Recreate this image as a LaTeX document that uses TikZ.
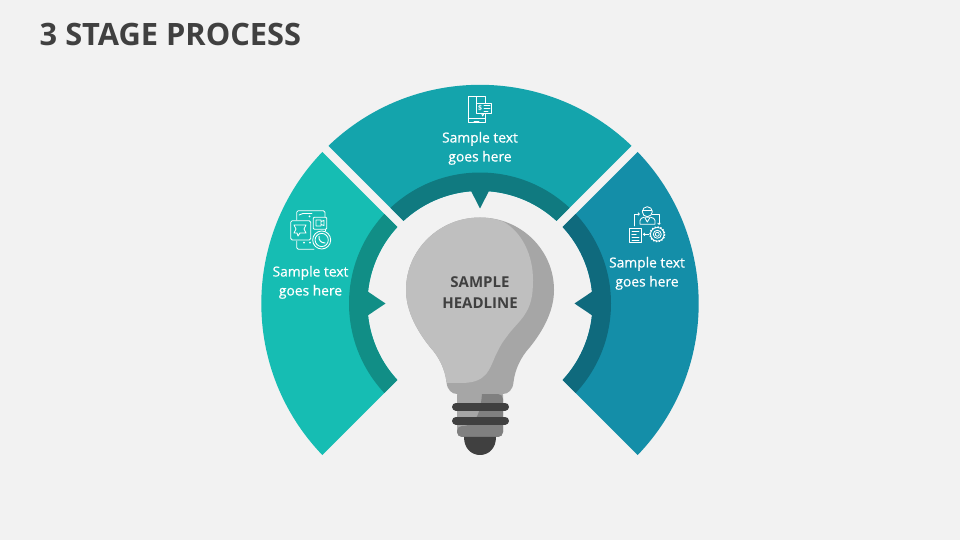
\documentclass[tikz,border=0pt]{standalone}
\usepackage{fontspec}
\usetikzlibrary{arrows.meta}
\setmainfont{Open Sans}
\newfontfamily\bodyfont[FakeBold=0.7]{Open Sans}
\definecolor{bgc}{HTML}{F2F2F2}
\definecolor{leftc}{HTML}{16BDB3}
\definecolor{leftr}{HTML}{118E86}
\definecolor{topc}{HTML}{14A4AC}
\definecolor{topr}{HTML}{107A80}
\definecolor{rightc}{HTML}{148EA8}
\definecolor{rightr}{HTML}{0F6A7D}
\definecolor{ink}{HTML}{404040}
\definecolor{bulbl}{HTML}{BFBFBF}
\definecolor{bulbd}{HTML}{A6A6A6}
\definecolor{neckd}{HTML}{808080}
\tikzset{
  bodytext/.style={text=white,font=\bodyfont\fontsize{13.8}{19}\selectfont,align=center,inner sep=0pt},
  headtext/.style={text=ink,font=\fontsize{15}{20.6}\selectfont\bfseries,align=center,inner sep=0pt},
  icon/.style={draw=white,line width=0.85pt,line join=round,line cap=round},
  band/.style={draw=ink,line width=8pt,line cap=round},
}
\begin{document}
\begin{tikzpicture}[x=1pt,y=1pt]
\useasboundingbox (0,0) rectangle (960,540);
\fill[bgc] (0,0) rectangle (960,540);
% segments
\begin{scope}[shift={(480pt,236.5pt)}]
  \fill[leftc] (136.15:218.7) arc[start angle=136.15,end angle=223.85,radius=218.7pt]
     -- (222.8:112.6) arc[start angle=222.8,end angle=137.2,radius=112.6pt] -- cycle;
  \fill[topc] (133.85:218.7) arc[start angle=133.85,end angle=46.15,radius=218.7pt]
     -- (47.2:112.6) arc[start angle=47.2,end angle=132.8,radius=112.6pt] -- cycle;
  \fill[rightc] (43.85:218.7) arc[start angle=43.85,end angle=-43.85,radius=218.7pt]
     -- (-42.8:112.6) arc[start angle=-42.8,end angle=42.8,radius=112.6pt] -- cycle;
  % rings with pointers
  \fill[leftr] (136.9:131) arc[start angle=136.9,end angle=223.1,radius=131pt]
     -- (222.8:112.6) arc[start angle=222.8,end angle=186,radius=112.6pt]
     -- (180:94.5) -- (174:112.6) arc[start angle=174,end angle=137.2,radius=112.6pt] -- cycle;
  \fill[topr] (133.1:131) arc[start angle=133.1,end angle=46.9,radius=131pt]
     -- (47.2:112.6) arc[start angle=47.2,end angle=85.5,radius=112.6pt]
     -- (90:95) -- (94.5:112.6) arc[start angle=94.5,end angle=132.8,radius=112.6pt] -- cycle;
  \fill[rightr] (43.1:131) arc[start angle=43.1,end angle=-43.1,radius=131pt]
     -- (-42.8:112.6) arc[start angle=-42.8,end angle=-6,radius=112.6pt]
     -- (0:94.5) -- (6:112.6) arc[start angle=6,end angle=42.8,radius=112.6pt] -- cycle;
\end{scope}
% everything below in reference pixel coordinates, y downwards
\begin{scope}[shift={(0pt,540pt)},y=-1pt]
  % title
  \node[anchor=base west,inner sep=0pt,text=ink,font=\fontsize{30.8}{36}\selectfont\bfseries] (title) at (39.5,45.5) {3 STAGE PROCESS};
  % neck
  \fill[bulbd,rounded corners=5pt] (457,390) -- (457,437) -- (503,437) -- (503,390) -- cycle;
  \fill[neckd,rounded corners=5pt] (482,394) -- (503,394) -- (503,437) -- (457,437) -- (457,426) [sharp corners] -- (462,426) .. controls (472,426) and (480,420) .. (482,394) -- cycle;
  % cap
  \fill[ink] (464,437) -- (496,437) .. controls (496,448) and (489,455) .. (480,455) .. controls (471,455) and (464,448) .. (464,437) -- cycle;
  % bands
  \coordinate (b1l) at (456,406.7); \coordinate (b1r) at (505,406.7);
  \coordinate (b2l) at (456,420.7); \coordinate (b2r) at (505,420.7);
  \draw[band] (b1l) -- (b1r);
  \draw[band] (b2l) -- (b2r);
  % bulb silhouette
  \fill[bulbd] (480,217.5) .. controls (521,217.5) and (554,250) .. (554,290)
     .. controls (554,312) and (542,332) .. (530,347)
     .. controls (520,358) and (515,370) .. (513.5,382)
     .. controls (513,390) and (508,394) .. (503,394) -- (457,394)
     .. controls (452,394) and (447,390) .. (446.5,382)
     .. controls (445,370) and (440,358) .. (430,347)
     .. controls (418,332) and (406,312) .. (406,290)
     .. controls (406,250) and (439,217.5) .. (480,217.5) -- cycle;
  % bulb highlight
  \fill[bulbl] (480,217.5) .. controls (488,217.5) and (496,219) .. (503,221.5)
     .. controls (522,232) and (533,255) .. (533,280)
     .. controls (533,296) and (531,306) .. (523.3,316.7)
     .. controls (518,324) and (512,329) .. (506.7,336.7)
     .. controls (500,345) and (498,351) .. (495,356.7)
     .. controls (492,364) and (490,369) .. (486.7,373.3)
     .. controls (482,379) and (476,382.5) .. (463,383)
     -- (447,383) -- (446.5,382)
     .. controls (445,370) and (440,358) .. (430,347)
     .. controls (418,332) and (406,312) .. (406,290)
     .. controls (406,250) and (439,217.5) .. (480,217.5) -- cycle;
  % texts
  \node[headtext] (head) at (480,292.8) {SAMPLE\\HEADLINE};
  \node[bodytext] (ttop) at (480,148.4) {Sample text\\goes here};
  \node[bodytext] (tleft) at (310.5,282.4) {Sample text\\goes here};
  \node[bodytext] (tright) at (647,273.4) {Sample text\\goes here};
  % top icon: phone + bubble
  \draw[icon] (476.5,103) -- (476.5,96) -- (485,96) -- (485,103);
  \draw[icon] (468.3,97) -- (468.3,122.5) -- (485,122.5) -- (485,114);
  \draw[icon] (468.3,97) -- (468.3,96) -- (477,96);
  \draw[icon] (468.3,118) -- (485,118);
  \draw[icon] (474,121) -- (479,121);
  \draw[icon] (476.7,103.3) rectangle (491.7,113.3);
  \draw[icon] (481.5,113.3) -- (482.7,116) -- (484,113.3);
  \draw[icon] (484,105.5) -- (490,105.5) (484,108.3) -- (490,108.3) (484,111) -- (488,111);
  \node[text=white,inner sep=0pt,font=\fontsize{7}{7}\selectfont\bfseries] (dollar) at (480.2,108.3) {\$};
  % left icon
  \draw[icon,rounded corners=1.5pt] (296.7,220) -- (296.7,210.7) -- (325,210.7) -- (325,217);
  \draw[icon,rounded corners=1.5pt] (296.7,241) -- (296.7,249.3) -- (314,249.3);
  \draw[icon] (325,229.5) -- (325,231);
  \draw[icon] (299,215) -- (303,213.5) -- (312,213.5);
  \fill[white] (309.5,216.5) circle (1pt);
  \draw[icon,rounded corners=1.5pt] (290.7,220.7) rectangle (310.7,240);
  \draw[icon] (294,225) -- (306,225) -- (304,229) -- (306,233) -- (300,233) -- (298,236) -- (297,233) -- (294,233) -- (296,229) -- cycle;
  \draw[icon,rounded corners=1pt] (313.3,217.3) rectangle (326.7,229.3);
  \draw[icon] (316,220) rectangle (321,226) (321,221.5) -- (324,220.5) -- (324,225.5) -- (321,224.5);
  \fill[white] (304,242.7) circle (1pt) (310,242.7) circle (1pt);
  \draw[icon] (321.7,240) circle (9);
  \draw[icon] (321.7,240) circle (6.6);
  \draw[icon,line width=1pt] (319,236.5) .. controls (318.5,240) and (321,243) .. (325,243);
  % right icon
  \draw[icon] (647.3,211.7) circle (5);
  \draw[icon] (642.5,210) -- (652,210);
  \draw[icon] (640,224.3) -- (640,220.5) .. controls (640,218.5) and (642,218) .. (644,217.2) -- (650.5,217.2) .. controls (653,218) and (655,218.5) .. (655,220.5) -- (655,224.3) -- cycle;
  \draw[icon] (645,218) -- (647.3,222) -- (649.7,218);
  \draw[icon] (629.3,228.3) rectangle (641.7,242.7);
  \draw[icon] (632,231.5) -- (639,231.5);
  \draw[icon,line width=1.4pt] (632,234.5) -- (636,234.5);
  \draw[icon] (632,237.5) -- (639,237.5) (632,240) -- (639,240);
  \draw[icon,-{Straight Barb[length=1.5pt,width=2.6pt]}] (649,234.3) -- (642.8,234.3);
  \draw[icon,-{Straight Barb[length=1.5pt,width=2.6pt]}] (634,226) -- (634,214) -- (640,214);
  \draw[icon,-{Straight Barb[length=1.5pt,width=2.6pt]}] (652,214) -- (659,214) -- (659,225);
  \draw[icon] (657.3,234.3) circle (6.8);
  \draw[white,line width=1.5pt,dash pattern=on 1.5pt off 1.36pt] (657.3,234.3) circle (7.3);
  \draw[icon] (657.3,234.3) circle (4);
  \draw[icon] (657.3,234.3) circle (2);
\end{scope}
\end{tikzpicture}
\end{document}
